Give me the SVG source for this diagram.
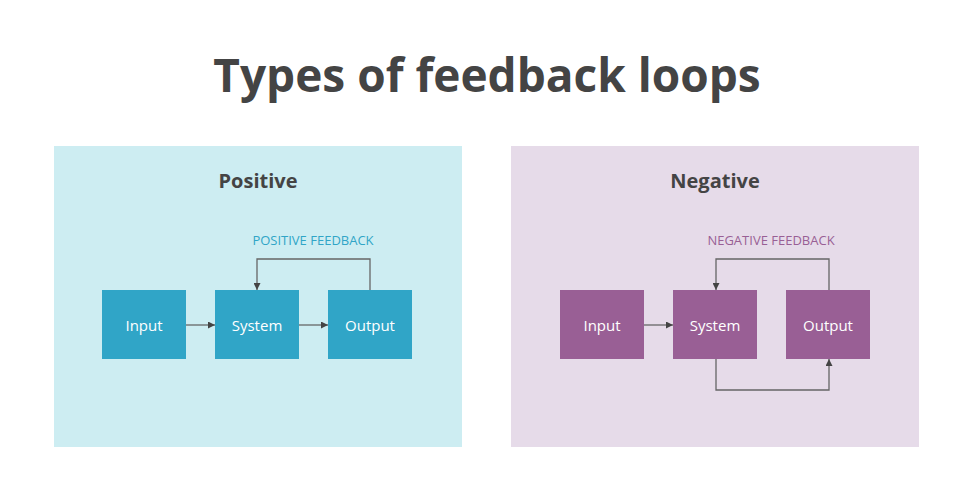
<svg xmlns="http://www.w3.org/2000/svg" width="974" height="497" viewBox="0 0 974 497">
<style>
.t{font-family:"Open Sans","DejaVu Sans",sans-serif;font-size:15px;fill:#fff;text-anchor:middle;dominant-baseline:central}
.h{font-family:"Open Sans","DejaVu Sans",sans-serif;font-weight:bold;font-size:20px;fill:#444;text-anchor:middle}
.f{font-family:"Open Sans","DejaVu Sans",sans-serif;font-size:13px;text-anchor:middle}
.c{fill:none;stroke:#666;stroke-width:1.3}
.pb{fill:#30a5c7}.nb{fill:#995f95}
</style>
<defs><marker id="a" viewBox="0 0 8 8" refX="8" refY="4" markerWidth="7" markerHeight="7" orient="auto" markerUnits="userSpaceOnUse"><path d="M0,0L8,4L0,8z" fill="#444"/></marker></defs>
<rect width="974" height="497" fill="#fff"/>
<text x="487" y="92" style="font-family:'Open Sans','DejaVu Sans',sans-serif;font-weight:bold;font-size:46px;fill:#444;text-anchor:middle">Types of feedback loops</text>
<rect x="54" y="146" width="408" height="301" fill="#cdedf2"/>
<rect x="511" y="146" width="408" height="301" fill="#e6dbe9"/>
<text class="h" x="258" y="188">Positive</text>
<text class="h" x="715" y="188">Negative</text>
<text class="f" x="313" y="245" fill="#30a5c7">POSITIVE FEEDBACK</text>
<text class="f" x="771" y="245" fill="#995f95">NEGATIVE FEEDBACK</text>
<g id="connectors">
<path class="c" d="M186,325H215" marker-end="url(#a)"/>
<path class="c" d="M299,325H328" marker-end="url(#a)"/>
<path class="c" d="M370,290V259H257V290" marker-end="url(#a)"/>
<path class="c" d="M644,325H673" marker-end="url(#a)"/>
<path class="c" d="M829,290V259H716V290" marker-end="url(#a)"/>
<path class="c" d="M716,359V390H829V359" marker-end="url(#a)"/>
</g>
<g id="p-input"><rect class="pb" x="102" y="290" width="84" height="69"/><text class="t" x="144" y="325">Input</text></g>
<g id="p-system"><rect class="pb" x="215" y="290" width="84" height="69"/><text class="t" x="257" y="325">System</text></g>
<g id="p-output"><rect class="pb" x="328" y="290" width="84" height="69"/><text class="t" x="370" y="325">Output</text></g>
<g id="n-input"><rect class="nb" x="560" y="290" width="84" height="69"/><text class="t" x="602" y="325">Input</text></g>
<g id="n-system"><rect class="nb" x="673" y="290" width="84" height="69"/><text class="t" x="715" y="325">System</text></g>
<g id="n-output"><rect class="nb" x="786" y="290" width="84" height="69"/><text class="t" x="828" y="325">Output</text></g>
</svg>
